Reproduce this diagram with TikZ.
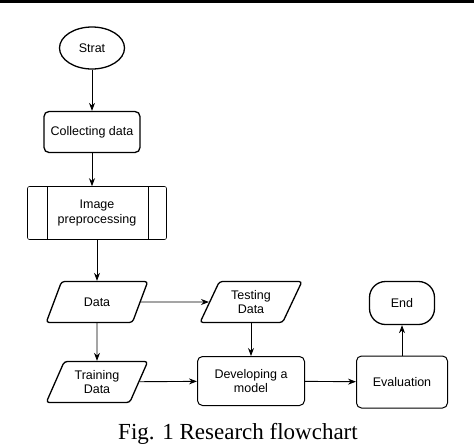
\documentclass[tikz,border=0pt]{standalone}
\usepackage{fontspec}
\setmainfont{Liberation Serif}
\setsansfont{Liberation Sans}
\usetikzlibrary{shapes.geometric,arrows.meta}
\tikzset{
    startend/.style={draw, line width=1.3pt, ellipse, minimum width=65pt, minimum height=42pt, font=\sffamily\fontsize{12.5}{14.5}\selectfont},
    endbox/.style={draw, line width=1.3pt, rounded corners=16pt, minimum width=65pt, minimum height=43pt, font=\sffamily\fontsize{12.5}{14.5}\selectfont},
    procbox/.style={draw, rounded corners=5pt, align=center, font=\sffamily\fontsize{12.5}{14.5}\selectfont},
    iobox/.style={draw, line width=1.3pt, trapezium, trapezium left angle=65, trapezium right angle=115,
        trapezium stretches=true, rounded corners=3pt, minimum width=102pt, minimum height=41pt,
        align=center, font=\sffamily\fontsize{12.5}{14.5}\selectfont},
    arr/.style={-{Stealth[length=8pt,width=6pt]}, line width=0.9pt}
}
\begin{document}
\begin{tikzpicture}[x=1pt, y=-1pt]
    \useasboundingbox (0,0) rectangle (474,445);
    %------------Borde superior----------
    \fill (0,0) rectangle (474,3);
    %------------Nodos--------------
    \node[startend] (strat) at (92,48) {Strat};
    \node[procbox, line width=1.3pt, minimum width=96pt, minimum height=41pt] (collect) at (92,132) {Collecting data};
    \node[procbox, line width=0.6pt, rounded corners=2pt, minimum width=139pt, minimum height=53pt] (prep) at (97,213) {Image\\preprocessing};
    \draw[line width=0.6pt] ([xshift=20pt]prep.north west) -- ([xshift=20pt]prep.south west);
    \draw[line width=0.6pt] ([xshift=-19pt]prep.north east) -- ([xshift=-19pt]prep.south east);
    \node[iobox] (data) at (97,302) {Data};
    \node[iobox] (train) at (97,382) {Training\\Data};
    \node[iobox] (test) at (251,302) {Testing\\Data};
    \node[procbox, line width=1pt, minimum width=107pt, minimum height=49pt] (model) at (251,381) {Developing a\\model};
    \node[procbox, line width=1pt, minimum width=91pt, minimum height=52pt] (eval) at (402,382) {Evaluation};
    \node[endbox] (end) at (402,303) {End};
    %------------Flechas--------------
    \draw[arr] (strat) -- (collect);
    \draw[arr] (collect.south) -- (collect.south |- prep.north);
    \draw[arr] (prep) -- (data);
    \draw[arr] (data) -- (test);
    \draw[arr] (data) -- (train);
    \draw[arr] (test) -- (model);
    \draw[arr] (train) -- (model);
    \draw[arr] (model) -- (eval);
    \draw[arr] (eval) -- (end);
    %------------Titulo--------------
    \node[anchor=base, inner sep=0pt, font=\fontsize{23}{25}\selectfont] (caption) at (238,439) {Fig. 1 Research flowchart};
\end{tikzpicture}
\end{document}
